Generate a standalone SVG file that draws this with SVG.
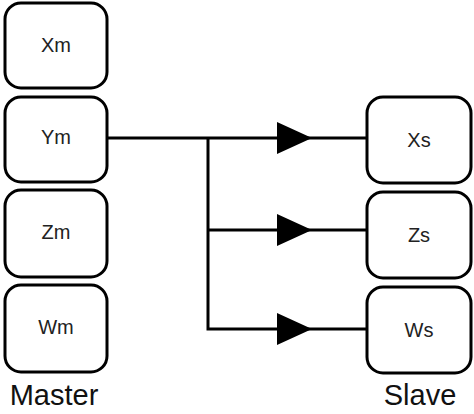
<svg xmlns="http://www.w3.org/2000/svg" width="474" height="414" viewBox="0 0 474 414">
<style>
.box{fill:#fff;stroke:#000;stroke-width:3}
.lbl{font-family:"Liberation Sans",Arial,sans-serif;font-size:20px;fill:#222;text-anchor:middle;dominant-baseline:central}
.cap{font-family:"Liberation Sans",Arial,sans-serif;font-size:29px;fill:#111;text-anchor:middle}
.wire{fill:none;stroke:#000;stroke-width:3}
</style>
<g id="Xm"><rect class="box" x="5" y="3" width="102" height="85" rx="16"/><text class="lbl" x="56" y="45">Xm</text></g>
<g id="Ym"><rect class="box" x="5" y="97" width="102" height="85" rx="16"/><text class="lbl" x="56" y="137">Ym</text></g>
<g id="Zm"><rect class="box" x="5" y="190" width="102" height="87" rx="16"/><text class="lbl" x="56" y="232">Zm</text></g>
<g id="Wm"><rect class="box" x="5" y="285" width="102" height="87" rx="16"/><text class="lbl" x="56" y="327">Wm</text></g>
<g id="Xs"><rect class="box" x="367" y="97" width="104" height="86" rx="16"/><text class="lbl" x="419" y="140">Xs</text></g>
<g id="Zs"><rect class="box" x="367" y="192" width="104" height="86" rx="16"/><text class="lbl" x="419" y="235">Zs</text></g>
<g id="Ws"><rect class="box" x="367" y="287" width="104" height="86" rx="16"/><text class="lbl" x="419" y="330">Ws</text></g>
<text class="cap" x="54" y="405">Master</text>
<text class="cap" x="420" y="405">Slave</text>
<g id="connectors">
<path class="wire" d="M107,138 H367"/>
<path class="wire" d="M208,138 V329 H367"/>
<path class="wire" d="M208,230 H367"/>
<path d="M277,122 L312,138 L277,154 Z" fill="#000"/>
<path d="M277,214 L312,230 L277,246 Z" fill="#000"/>
<path d="M277,313 L312,329 L277,345 Z" fill="#000"/>
</g>
</svg>
